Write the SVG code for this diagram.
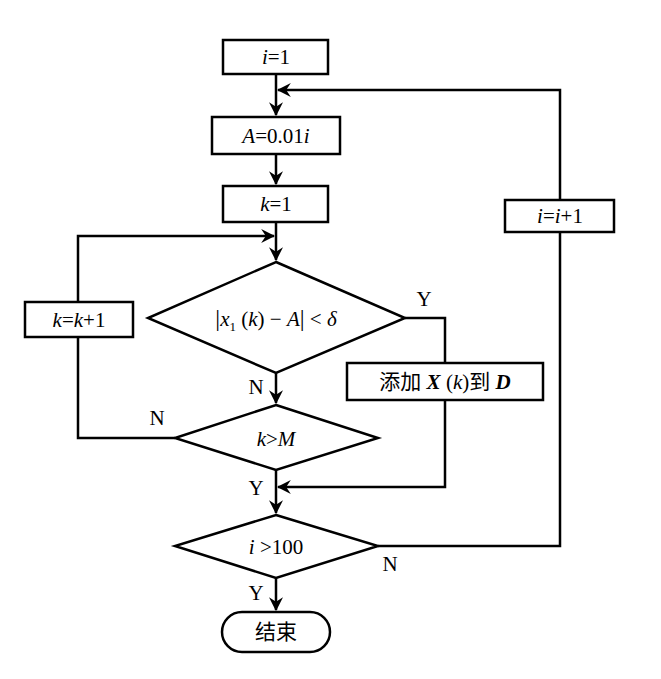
<svg xmlns="http://www.w3.org/2000/svg" width="661" height="679" viewBox="0 0 661 679">
<style>
.s{fill:#fff;stroke:#000;stroke-width:2.5}
.c{fill:none;stroke:#000;stroke-width:2.5}
text{font-family:"Liberation Serif","Noto Sans CJK SC",serif;font-size:21px;text-anchor:middle}
.i{font-style:italic}
</style>
<defs><marker id="a" viewBox="0 0 12 12" refX="11" refY="6" markerWidth="6" markerHeight="6" orient="auto" markerUnits="userSpaceOnUse"><path d="M0,0 L12,6 L0,12 L4,6 Z" fill="#000"/></marker></defs>
<defs><marker id="b" viewBox="0 0 12 12" refX="11" refY="6" markerWidth="14" markerHeight="14" orient="auto" markerUnits="userSpaceOnUse"><path d="M0,0 L12,6 L0,12 L4,6 Z" fill="#000"/></marker></defs>
<g id="connectors">
<path class="c" d="M276,74 V115" marker-end="url(#b)"/>
<path class="c" d="M276,154 V184" marker-end="url(#b)"/>
<path class="c" d="M276,222 V260" marker-end="url(#b)"/>
<path class="c" d="M276,373 V403" marker-end="url(#b)"/>
<path class="c" d="M276,470 V513" marker-end="url(#b)"/>
<path class="c" d="M276,578 V610" marker-end="url(#b)"/>
<path class="c" d="M175,438 H78 V236 H274" marker-end="url(#b)"/>
<path class="c" d="M405,318 H445 V363"/>
<path class="c" d="M445,400 V487 H278" marker-end="url(#b)"/>
<path class="c" d="M378,546 H560 V90 H278" marker-end="url(#b)"/>
</g>
<g id="n1"><rect class="s" x="223" y="40" width="105" height="34"/><text x="276" y="64"><tspan class="i">i</tspan>=1</text></g>
<g id="n2"><rect class="s" x="212" y="117" width="128" height="37"/><text x="276" y="143"><tspan class="i">A</tspan>=0.01<tspan class="i">i</tspan></text></g>
<g id="n3"><rect class="s" x="223" y="186" width="105" height="36"/><text x="276" y="211"><tspan class="i">k</tspan>=1</text></g>
<g id="d1"><path class="s" d="M276,262 L405,318 L276,373 L148,318 Z"/><text x="276" y="326"><tspan font-size="24">|</tspan><tspan class="i">x</tspan><tspan font-size="13" dy="5">1</tspan><tspan dy="-5"> (</tspan><tspan class="i">k</tspan>) − <tspan class="i">A</tspan><tspan font-size="24">|</tspan> &lt; <tspan class="i">δ</tspan></text></g>
<g id="add"><rect class="s" x="347" y="363" width="196" height="37"/><text x="445" y="389">添加 <tspan font-weight="bold" font-style="italic">X</tspan> (<tspan class="i">k</tspan>)到 <tspan font-weight="bold" font-style="italic">D</tspan></text></g>
<g id="d2"><path class="s" d="M276,405 L378,438 L276,470 L175,438 Z"/><text x="276" y="446"><tspan class="i">k</tspan>&gt;<tspan class="i">M</tspan></text></g>
<g id="inc"><rect class="s" x="25" y="302" width="108" height="35"/><text x="79" y="327"><tspan class="i">k</tspan>=<tspan class="i">k</tspan>+1</text></g>
<g id="d3"><path class="s" d="M276,515 L378,546 L276,578 L175,546 Z"/><text x="276" y="554"><tspan class="i">i</tspan> &gt;100</text></g>
<g id="inci"><rect class="s" x="505" y="200" width="109" height="32"/><text x="560" y="223"><tspan class="i">i</tspan>=<tspan class="i">i</tspan>+1</text></g>
<g id="end"><rect class="s" x="222" y="612" width="108" height="40" rx="20"/><text x="276" y="639">结束</text></g>
<g id="labels">
<text x="424" y="306">Y</text>
<text x="256" y="394">N</text>
<text x="157" y="425">N</text>
<text x="256" y="495">Y</text>
<text x="390" y="571">N</text>
<text x="256" y="600">Y</text>
</g>
</svg>
